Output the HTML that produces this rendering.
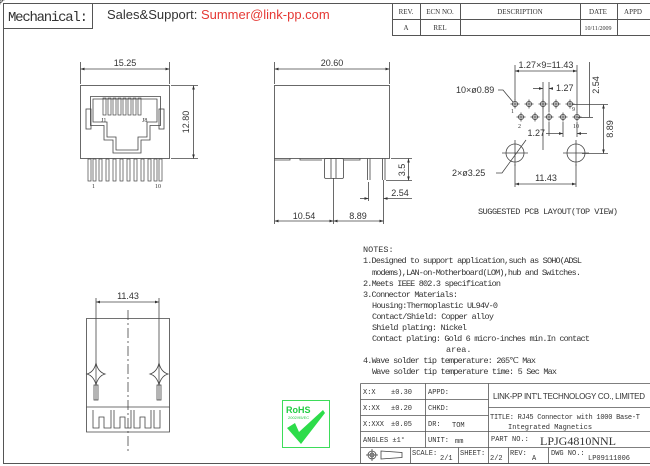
<!DOCTYPE html>
<html><head><meta charset="utf-8"><style>
html,body{margin:0;padding:0;background:#fff}
svg{display:block}
text{font-family:"Liberation Serif","Noto Serif CJK SC",serif;fill:#333}
.s,.s text{font-family:"Liberation Sans",sans-serif}
.m,.m text{font-family:"Liberation Mono",monospace}
</style></head><body>
<svg width="650" height="466" viewBox="0 0 650 466" xmlns="http://www.w3.org/2000/svg">
<defs>
<marker id="a" viewBox="0 0 6 6" refX="6" refY="3" markerWidth="5" markerHeight="5" orient="auto-start-reverse"><path d="M0,1 L6,3 L0,5z" fill="#333"/></marker>
</defs>
<g fill="none" stroke="#555" stroke-width="1">
<path d="M3.5,3.5 H650 M3.5,3.5 V463.5 H650"/>
<rect x="3.5" y="3.5" width="89" height="25"/>
<rect x="392.5" y="3.5" width="258" height="32"/>
<line x1="392.5" y1="19.5" x2="650" y2="19.5"/>
<line x1="420.5" y1="3.5" x2="420.5" y2="35.5"/>
<line x1="460.5" y1="3.5" x2="460.5" y2="35.5"/>
<line x1="580.5" y1="3.5" x2="580.5" y2="35.5"/>
<line x1="617.5" y1="3.5" x2="617.5" y2="35.5"/>
</g>
<text x="8" y="21" font-size="14" class="m" fill="#444" textLength="80">Mechanical:</text>
<text x="107" y="19" font-size="13" class="s" fill="#111">Sales&amp;Support: <tspan fill="#e53935" style="fill:#e53935">Summer@link-pp.com</tspan></text>
<g font-size="7" text-anchor="middle">
<text x="406" y="14">REV.</text><text x="440" y="14">ECN NO.</text><text x="520" y="14">DESCRIPTION</text><text x="598" y="14">DATE</text><text x="633" y="14">APPD</text>
<text x="406" y="30">A</text><text x="440" y="30">REL</text><text x="598" y="30" font-size="6">10/11/2009</text>
</g>

<!-- FRONT VIEW -->
<g fill="none" stroke="#444" stroke-width="0.8">
<rect x="80.5" y="85.5" width="89" height="73"/>
<path d="M90.5,96.5 H160.5 V125.5 H150 V140 H141 V153 H113 V140 H104 V125.5 H90.5 Z"/>
<path d="M93,99 H157 V122 H147 V137 H138 V150 H116 V137 H107 V122 H93 Z"/>
<rect x="86" y="109" width="5" height="20"/><rect x="159" y="109" width="5" height="20"/>
<g stroke-width="0.7">
<rect x="103" y="98" width="3" height="17"/><rect x="108" y="98" width="3" height="17"/><rect x="113" y="98" width="3" height="17"/><rect x="118" y="98" width="3" height="17"/><rect x="123" y="98" width="3" height="17"/><rect x="128" y="98" width="3" height="17"/><rect x="133" y="98" width="3" height="17"/><rect x="138" y="98" width="3" height="17"/>
</g>
<g stroke-width="0.7">
<rect x="88" y="159" width="3" height="22"/><rect x="93" y="159" width="3" height="22"/><rect x="99" y="159" width="3" height="22"/><rect x="106" y="159" width="3" height="22"/><rect x="113" y="159" width="3" height="22"/><rect x="120" y="159" width="3" height="22"/><rect x="127" y="159" width="3" height="22"/><rect x="134" y="159" width="3" height="22"/><rect x="141" y="159" width="3" height="22"/><rect x="148" y="159" width="3" height="22"/><rect x="154" y="159" width="3" height="22"/><rect x="159" y="159" width="3" height="22"/>
</g>
<line x1="80.5" y1="62" x2="80.5" y2="84"/><line x1="169.5" y1="62" x2="169.5" y2="84"/>
<line x1="80.5" y1="69" x2="169.5" y2="69" marker-start="url(#a)" marker-end="url(#a)"/>
<line x1="171" y1="85.5" x2="198" y2="85.5"/><line x1="171" y1="158.5" x2="198" y2="158.5"/>
<line x1="193.5" y1="85.5" x2="193.5" y2="158.5" marker-start="url(#a)" marker-end="url(#a)"/>
</g>
<text x="125" y="66" font-size="9" class="s" text-anchor="middle">15.25</text>
<text transform="translate(189,122) rotate(-90)" font-size="9" class="s" text-anchor="middle">12.80</text>
<text x="101" y="122" font-size="6">J1</text><text x="142" y="122" font-size="6">J8</text>
<text x="92" y="188" font-size="6">1</text><text x="155" y="188" font-size="6">10</text>

<!-- SIDE VIEW -->
<g fill="none" stroke="#444" stroke-width="0.8">
<rect x="274.5" y="85.5" width="115" height="73"/>
<path d="M274.5,158.5 V160 H290 V158.5 M300,158.5 V160 H322 M344,160 H360 V158.5"/>
<rect x="324.5" y="158.5" width="19" height="20" rx="1.5"/>
<line x1="331" y1="158.5" x2="331" y2="178"/><line x1="336" y1="158.5" x2="336" y2="178"/>
<line x1="367.5" y1="158.5" x2="367.5" y2="180"/><line x1="370" y1="158.5" x2="370" y2="180"/>
<line x1="382.5" y1="158.5" x2="382.5" y2="180"/><line x1="385" y1="158.5" x2="385" y2="180"/>
<line x1="274.5" y1="62" x2="274.5" y2="84"/><line x1="389.5" y1="62" x2="389.5" y2="84"/>
<line x1="274.5" y1="69" x2="389.5" y2="69" marker-start="url(#a)" marker-end="url(#a)"/>
<line x1="274.5" y1="160" x2="274.5" y2="224"/>
<line x1="333.5" y1="178" x2="333.5" y2="224"/>
<line x1="383.5" y1="180" x2="383.5" y2="224"/>
<line x1="274.5" y1="221" x2="333.5" y2="221" marker-start="url(#a)" marker-end="url(#a)"/>
<line x1="333.5" y1="221" x2="383.5" y2="221" marker-start="url(#a)" marker-end="url(#a)"/>
<line x1="368.5" y1="182" x2="368.5" y2="201"/>
<line x1="360" y1="198.5" x2="368.5" y2="198.5" marker-end="url(#a)"/>
<line x1="383.5" y1="198.5" x2="412" y2="198.5" marker-start="url(#a)"/>
<line x1="391" y1="158.5" x2="412" y2="158.5"/><line x1="386" y1="180.5" x2="412" y2="180.5"/>
<line x1="408.5" y1="158.5" x2="408.5" y2="180.5" marker-start="url(#a)" marker-end="url(#a)"/>
</g>
<text x="332" y="66" font-size="9" class="s" text-anchor="middle">20.60</text>
<text x="304" y="219" font-size="9" class="s" text-anchor="middle">10.54</text>
<text x="358" y="219" font-size="9" class="s" text-anchor="middle">8.89</text>
<text x="400" y="196" font-size="9" class="s" text-anchor="middle">2.54</text>
<text transform="translate(405,170) rotate(-90)" font-size="9" class="s" text-anchor="middle">3.5</text>

<!-- PCB LAYOUT -->
<g fill="none" stroke="#444" stroke-width="0.8">
<g id="h"><circle cx="0" cy="0" r="2.6"/><line x1="-4.5" y1="0" x2="4.5" y2="0"/><line x1="0" y1="-4.5" x2="0" y2="4.5"/></g>
<use href="#h" x="515" y="104"/><use href="#h" x="529" y="104"/><use href="#h" x="543" y="104"/><use href="#h" x="556" y="104"/><use href="#h" x="570" y="104"/>
<use href="#h" x="521" y="117"/><use href="#h" x="535" y="117"/><use href="#h" x="549" y="117"/><use href="#h" x="563" y="117"/><use href="#h" x="577" y="117"/>
<circle cx="515" cy="153" r="9"/><line x1="502" y1="153" x2="528" y2="153"/><line x1="515" y1="140" x2="515" y2="166"/>
<circle cx="576" cy="153" r="9"/><line x1="563" y1="153" x2="589" y2="153"/><line x1="576" y1="140" x2="576" y2="166"/>
<line x1="515" y1="65" x2="515" y2="100"/><line x1="577" y1="65" x2="577" y2="113"/>
<line x1="515" y1="71" x2="577" y2="71" marker-start="url(#a)" marker-end="url(#a)"/>
<line x1="543" y1="82" x2="543" y2="150"/><line x1="549" y1="82" x2="549" y2="112"/>
<line x1="533" y1="88.5" x2="543" y2="88.5" marker-end="url(#a)"/><line x1="549" y1="88.5" x2="553" y2="88.5" marker-start="url(#a)"/>
<line x1="549" y1="122" x2="549" y2="136"/>
<line x1="546" y1="133.5" x2="563" y2="133.5" marker-end="url(#a)"/><line x1="577" y1="133.5" x2="587" y2="133.5" marker-start="url(#a)"/>
<line x1="563" y1="122" x2="563" y2="137"/><line x1="577" y1="122" x2="577" y2="137"/>
<line x1="589.5" y1="62" x2="589.5" y2="117"/><line x1="578" y1="117.5" x2="593" y2="117.5"/>
<line x1="572" y1="104.5" x2="608" y2="104.5"/><line x1="582" y1="153.5" x2="608" y2="153.5"/>
<line x1="603.5" y1="104.5" x2="603.5" y2="153.5" marker-start="url(#a)" marker-end="url(#a)"/>
<line x1="515" y1="164" x2="515" y2="187"/><line x1="576" y1="164" x2="576" y2="187"/>
<line x1="515" y1="184" x2="576" y2="184" marker-start="url(#a)" marker-end="url(#a)"/>
<path d="M498,90 H503 L513,102"/>
<path d="M496,173 H502 L526,140"/>
</g>
<text x="546" y="68" font-size="9" class="s" text-anchor="middle">1.27×9=11.43</text>
<text x="556" y="91" font-size="9" class="s">1.27</text>
<text x="545" y="136" font-size="9" class="s" text-anchor="end">1.27</text>
<text x="456" y="93" font-size="9" class="s">10×ø0.89</text>
<text x="452" y="176" font-size="9" class="s">2×ø3.25</text>
<text x="546" y="181" font-size="9" class="s" text-anchor="middle">11.43</text>
<text transform="translate(599,85) rotate(-90)" font-size="9" class="s" text-anchor="middle">2.54</text>
<text transform="translate(613,129) rotate(-90)" font-size="9" class="s" text-anchor="middle">8.89</text>
<g font-size="6"><text x="511" y="113">1</text><text x="518" y="128">2</text><text x="572" y="111">9</text><text x="573" y="128">10</text></g>
<text x="478" y="214" font-size="8.5" class="m" textLength="140">SUGGESTED PCB LAYOUT(TOP VIEW)</text>

<!-- BOTTOM VIEW -->
<g fill="none" stroke="#444" stroke-width="0.8">
<path d="M86.5,318.5 H169.5 V407 H86.5 Z"/>
<path d="M86.5,407 V432 H169.5 V407"/>
<path d="M93,410 V428 H99 V417 H104 V428 H111 V410 M114,410 V428 H120 V417 H125 V428 H131 V410 M134,410 V428 H140 V417 H145 V428 H151 V410 M154,410 V428 H160 V410"/>
<line x1="128" y1="310" x2="128" y2="452" stroke-dasharray="10,3,2,3"/>
<line x1="96" y1="298" x2="96" y2="400"/><line x1="159" y1="298" x2="159" y2="400"/>
<line x1="96" y1="302" x2="159" y2="302" marker-start="url(#a)" marker-end="url(#a)"/>
<path d="M96,363 Q98,372 105,374 Q98,376 96,385 Q94,376 87,374 Q94,372 96,363Z"/>
<path d="M159,363 Q161,372 168,374 Q161,376 159,385 Q157,376 150,374 Q157,372 159,363Z"/>
<rect x="94" y="385" width="4" height="15"/><rect x="157" y="385" width="4" height="15"/>
</g>
<text x="128" y="299" font-size="9" class="s" text-anchor="middle">11.43</text>

<!-- NOTES -->
<g font-size="8.5" class="m">
<text x="363" y="252">NOTES:</text>
<text x="363" y="263" textLength="219">1.Designed to support application,such as SOHO(ADSL</text>
<text x="372" y="275" textLength="209">modems),LAN-on-Motherboard(LOM),hub and Switches.</text>
<text x="363" y="286" textLength="138">2.Meets IEEE 802.3 specification</text>
<text x="363" y="297" textLength="95">3.Connector Materials:</text>
<text x="372" y="308" textLength="126">Housing:Thermoplastic UL94V-0</text>
<text x="372" y="319" textLength="122">Contact/Shield: Copper alloy</text>
<text x="372" y="330" textLength="95">Shield plating: Nickel</text>
<text x="372" y="341" textLength="218">Contact plating: Gold 6 micro-inches min.In contact</text>
<text x="446" y="352">area.</text>
<text x="363" y="363" textLength="173">4.Wave solder tip temperature: 265℃ Max</text>
<text x="372" y="374" textLength="185">Wave solder tip temperature time: 5 Sec Max</text>
</g>

<!-- RoHS -->
<rect x="282.5" y="400.5" width="47" height="47" fill="none" stroke="#3ddc5a" stroke-width="1"/>
<text x="286" y="413" font-size="9" class="s" font-weight="bold" style="fill:#22cc44">RoHS</text>
<text x="288" y="419" font-size="4" class="s" style="fill:#22cc44">2002/95/EC</text>
<path d="M287,428 L295,423 L299,432 L323,410 L325,413 L301,444 Z" fill="#2ddc4a"/>

<!-- TITLE BLOCK -->
<g fill="none" stroke="#555" stroke-width="0.8">
<path d="M360.5,383.5 H650 M360.5,383.5 V463.5"/>
<line x1="360.5" y1="399.5" x2="488.5" y2="399.5"/>
<line x1="360.5" y1="415.5" x2="488.5" y2="415.5"/>
<line x1="360.5" y1="431.5" x2="650" y2="431.5"/>
<line x1="360.5" y1="447.5" x2="650" y2="447.5"/>
<line x1="488.5" y1="407.5" x2="650" y2="407.5"/>
<line x1="425.5" y1="383.5" x2="425.5" y2="447.5"/>
<line x1="488.5" y1="383.5" x2="488.5" y2="463.5"/>
<line x1="410.5" y1="447.5" x2="410.5" y2="463.5"/>
<line x1="458.5" y1="447.5" x2="458.5" y2="463.5"/>
<line x1="508.5" y1="447.5" x2="508.5" y2="463.5"/>
<line x1="548.5" y1="447.5" x2="548.5" y2="463.5"/>
</g>
<g font-size="7" class="m">
<text x="363" y="394">X:X</text><text x="391" y="394">±0.30</text>
<text x="363" y="410">X:XX</text><text x="391" y="410">±0.20</text>
<text x="363" y="426">X:XXX</text><text x="391" y="426">±0.05</text>
<text x="363" y="442">ANGLES ±1°</text>
<text x="428" y="394">APPD:</text><text x="428" y="410">CHKD:</text>
<text x="428" y="426">DR:</text><text x="452" y="427">TOM</text>
<text x="428" y="442">UNIT:</text><text x="455" y="443">mm</text>
<text x="412" y="455">SCALE:</text><text x="440" y="460">2/1</text>
<text x="460" y="455">SHEET:</text><text x="490" y="460">2/2</text>
<text x="510" y="455">REV:</text><text x="532" y="460">A</text>
<text x="551" y="455">DWG NO.:</text><text x="588" y="460">LP09111006</text>
<text x="490" y="419" textLength="150">TITLE: RJ45 Connector with 1000 Base-T</text>
<text x="508" y="429">Integrated Magnetics</text>
<text x="491" y="441">PART NO.:</text>
</g>
<text x="493" y="399" font-size="8" class="s" fill="#222" textLength="152">LINK-PP INT'L TECHNOLOGY CO., LIMITED</text>
<text x="540" y="445" font-size="12" fill="#222">LPJG4810NNL</text>
<g fill="none" stroke="#444" stroke-width="0.8">
<circle cx="372" cy="455" r="4"/><circle cx="372" cy="455" r="2"/><line x1="366" y1="455" x2="378" y2="455"/><line x1="372" y1="449" x2="372" y2="461"/>
<path d="M381,451 L402,452.5 V457.5 L381,459 Z"/>
</g>
</svg>
</body></html>
